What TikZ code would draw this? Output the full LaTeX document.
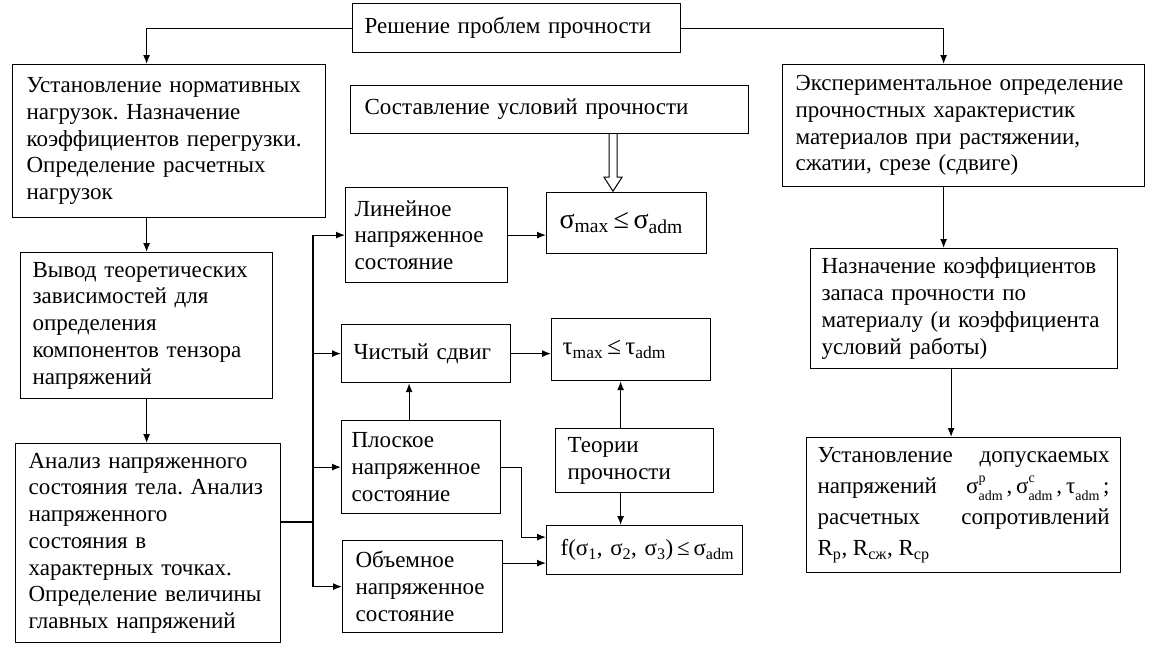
\documentclass[tikz,border=0pt]{standalone}
\usepackage{fontspec}
\setmainfont{Liberation Serif}
\usetikzlibrary{arrows.meta}
\newcommand{\sbsp}[2]{\rlap{\raisebox{.5em}{\fontsize{14}{14}\selectfont #1}}\raisebox{-.3em}{\fontsize{14}{14}\selectfont #2}}
\frenchspacing
\begin{document}
\begin{tikzpicture}[x=1pt,y=-1pt,line width=1.2pt,
  box/.style={draw,anchor=north west,align=left,inner ysep=2pt,
    font=\fontsize{23}{26.75}\selectfont},
  arr/.style={-{Latex[length=9pt,width=7pt]}}]
  \useasboundingbox (0,0) rectangle (1155,657);
  % top and left column
  \node[box,inner xsep=12pt,text width=304,minimum height=49] (top) at (352,3) {Решение проблем прочности\\[8pt]};
  \node[box,inner xsep=14pt,text width=285,minimum height=153] (norm) at (12,64)
    {Установление нормативных\\ нагрузок. Назначение\\ коэффициентов перегрузки.\\ Определение расчетных\\ нагрузок};
  \node[box,inner xsep=12pt,text width=228,minimum height=146] (vyvod) at (20,252)
    {Вывод теоретических\\ зависимостей для\\ определения\\ компонентов тензора\\ напряжений};
  \node[box,inner xsep=13pt,text width=239,minimum height=199] (anal) at (15,443)
    {Анализ напряженного\\ состояния тела. Анализ\\ напряженного\\ состояния в\\ характерных точках.\\ Определение величины\\ главных напряжений};
  % middle
  \node[box,inner xsep=14pt,text width=370,minimum height=48] (sost) at (350,85) {Составление условий прочности\\[6pt]};
  \node[box,inner xsep=9pt,text width=144,minimum height=95] (lin) at (345,187) {Линейное\\ напряженное\\ состояние};
  \node[box,inner xsep=12pt,text width=145,minimum height=58] (chist) at (341,324) {Чистый сдвиг\\[6pt]};
  \node[box,inner xsep=10pt,text width=139,minimum height=93] (plosk) at (341,420) {Плоское\\ напряженное\\ состояние};
  \node[box,inner xsep=13pt,text width=134,minimum height=92] (obj) at (342,540) {Объемное\\ напряженное\\ состояние};
  \node[box,inner xsep=13pt,text width=134,minimum height=61,font=\fontsize{28}{30}\selectfont] (sig) at (546,192)
    {σ\textsubscript{max}\,≤\,σ\textsubscript{adm}};
  \node[box,inner xsep=11pt,text width=137,minimum height=62,font=\fontsize{25}{28}\selectfont] (tau) at (551,318)
    {τ\textsubscript{max}\,≤\,τ\textsubscript{adm}\\[8pt]};
  \node[box,inner xsep=12pt,text width=134,minimum height=64] (teor) at (555,428) {Теории\\ прочности};
  \node[box,inner xsep=8pt,text width=180,minimum height=49] (fsig) at (546,525)
    {\hspace*{6pt}f(σ\textsubscript{1}, σ\textsubscript{2}, σ\textsubscript{3})\,≤\,σ\textsubscript{adm}};
  % right column
  \node[box,inner xsep=13pt,text width=336,minimum height=122] (exper) at (782,64)
    {Экспериментальное определение\\ прочностных характеристик\\ материалов при растяжении,\\ сжатии, срезе (сдвиге)};
  \node[box,inner xsep=11pt,text width=285,minimum height=120] (koef) at (810,248)
    {Назначение коэффициентов\\ запаса прочности по\\ материалу (и коэффициента\\ условий работы)};
  \node[box,align=justify,inner xsep=11pt,text width=292,minimum height=135,font=\fontsize{23}{31}\selectfont] (dop) at (806,437)
    {Установление допускаемых напряжений\ \ σ\sbsp{p}{adm}\,,\,σ\sbsp{c}{adm}\,,\,τ\raisebox{-.3em}{\fontsize{14}{14}\selectfont adm}\,;\linebreak расчетных сопротивлений\linebreak R\textsubscript{p}, R\textsubscript{сж}, R\textsubscript{ср}};
  % connectors
  \draw[arr] (top.west) -| (vyvod.north |- norm.north);
  \draw[arr] (top.east) -| ([xshift=-20pt]exper.south |- exper.north);
  \draw[arr] (vyvod.north |- norm.south) -- (vyvod.north);
  \draw[arr] (vyvod.south) -- (vyvod.south |- anal.north);
  \draw[arr] ([xshift=-20pt]exper.south) -- ([xshift=-20pt]exper.south |- koef.north);
  \draw[arr] ([xshift=-13pt]koef.south) -- ([xshift=-13pt]koef.south |- dop.north);
  \coordinate (bus) at (313,522);
  \draw (anal.east |- bus) -- (bus);
  \draw (bus |- lin.west) -- (bus |- obj.west);
  \foreach \n in {lin,chist,plosk,obj}
    \draw[arr] (bus |- \n.west) -- (\n.west);
  \draw[arr] (lin.east) -- (lin.east -| sig.west);
  \draw[arr] (chist.east) -- (chist.east -| tau.west);
  \draw[arr] ([xshift=-12pt]plosk.north) -- ([xshift=-12pt]plosk.north |- chist.south);
  \draw[arr] (plosk.east) -- ++(20,0) |- ([yshift=13pt]fsig.west);
  \draw[arr] ([yshift=-13pt]fsig.west -| obj.east) -- ([yshift=-13pt]fsig.west);
  \draw[arr] ([xshift=-14pt]teor.north) -- ([xshift=-14pt]teor.north |- tau.south);
  \draw[arr] ([xshift=-14pt]teor.south) -- ([xshift=-14pt]teor.south |- fsig.north);
  % hollow arrow
  \coordinate (hol) at (sost.south -| 613,0);
  \draw[line width=1pt] (hol) ++(-4,0) -- ++(0,43) -- ++(-5,0) -- ++(9,14) -- ++(9,-14) -- ++(-5,0) -- ++(0,-43);
\end{tikzpicture}
\end{document}
